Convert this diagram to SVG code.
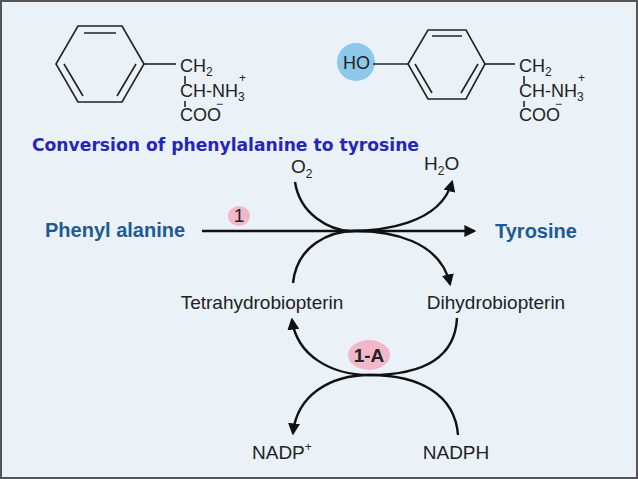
<svg xmlns="http://www.w3.org/2000/svg" width="638" height="479" viewBox="0 0 638 479">
<style>
.t{font-family:"Liberation Sans",Arial,sans-serif;fill:#222;font-size:19px}
.c{font-size:18px}
.s{font-size:12px}
.b{font-family:"Liberation Sans",Arial,sans-serif;font-weight:bold;fill:#1d5a96;font-size:20px}
.ln{stroke:#111;stroke-width:2.4;fill:none}
.bd{stroke:#222;stroke-width:1.6;fill:none}
</style>
<defs><marker id="ah" viewBox="0 0 10 10" refX="8" refY="5" markerWidth="5" markerHeight="5" orient="auto"><path d="M0,0L10,5L0,10z" fill="#111"/></marker></defs>
<rect width="638" height="479" fill="#eaf1f7"/>
<rect x="0" y="0" width="638" height="479" fill="none" stroke="#555" stroke-width="4"/>
<g id="phe">
<polygon class="bd" points="144,64 122,26 78,26 56,64 78,102 122,102"/>
<path class="bd" d="M84,33H116M136,64L117,96M64,64L83,96"/>
<line class="bd" x1="144" y1="64" x2="176" y2="64"/>
<text class="t c" x="180" y="72">CH<tspan class="s" dy="4">2</tspan></text>
<line class="bd" x1="185" y1="76" x2="185" y2="84"/>
<text class="t c" x="180" y="97">CH-NH<tspan class="s" dy="4">3</tspan></text>
<text class="t s" x="239" y="82">+</text>
<line class="bd" x1="185" y1="101" x2="185" y2="107"/>
<text class="t c" x="180" y="121">COO</text>
<text class="t s" x="216" y="108">−</text>
</g>
<g id="tyr">
<circle cx="356" cy="62" r="19" fill="#8ec9ec"/>
<text class="t c" x="343" y="69">HO</text>
<line class="bd" x1="373" y1="64" x2="408" y2="64"/>
<polygon class="bd" points="408,64 428,30 466,30 485,64 466,99 428,99"/>
<path class="bd" d="M432,36H462M415,64L432,93M478,64L461,93"/>
<line class="bd" x1="485" y1="64" x2="515" y2="64"/>
<text class="t c" x="519" y="72">CH<tspan class="s" dy="4">2</tspan></text>
<line class="bd" x1="524" y1="76" x2="524" y2="84"/>
<text class="t c" x="519" y="97">CH-NH<tspan class="s" dy="4">3</tspan></text>
<text class="t s" x="578" y="82">+</text>
<line class="bd" x1="524" y1="101" x2="524" y2="107"/>
<text class="t c" x="519" y="121">COO</text>
<text class="t s" x="555" y="108">−</text>
</g>
<text x="32" y="151" font-family="'DejaVu Sans',Verdana,sans-serif" font-weight="bold" font-size="17" fill="#2626b8" textLength="387" lengthAdjust="spacingAndGlyphs">Conversion of phenylalanine to tyrosine</text>
<g id="connectors">
<line class="ln" x1="202" y1="231" x2="474" y2="231" marker-end="url(#ah)"/>
<path class="ln" d="M295,182C300,215 330,230 350,231C380,231 440,225 452,182" marker-end="url(#ah)"/>
<path class="ln" d="M293,283C297,245 330,231 355,231C390,231 440,240 450,284" marker-end="url(#ah)"/>
<path class="ln" d="M457,318C455,360 420,375 370,375C330,375 297,355 292,320" marker-end="url(#ah)"/>
<path class="ln" d="M458,435C455,395 420,375 370,375C330,375 297,395 293,433" marker-end="url(#ah)"/>
</g>
<g id="n1"><ellipse cx="239" cy="216" rx="11" ry="10" fill="#f2b8c9"/><text class="t" x="239" y="222" text-anchor="middle" font-size="15">1</text></g>
<g id="n1a"><ellipse cx="369" cy="355" rx="21" ry="15" fill="#f2b8c9"/><text class="t" x="369" y="362" text-anchor="middle" font-weight="bold" font-size="18">1-A</text></g>
<g id="phenyl"><text class="b" x="45" y="237">Phenyl alanine</text></g>
<g id="tyrosine"><text class="b" x="495" y="238">Tyrosine</text></g>
<g id="o2"><text class="t" x="291" y="173">O<tspan class="s" dy="5">2</tspan></text></g>
<g id="h2o"><text class="t" x="424" y="170">H<tspan class="s" dy="5">2</tspan><tspan dy="-5">O</tspan></text></g>
<g id="thb"><text class="t" x="262" y="309" text-anchor="middle">Tetrahydrobiopterin</text></g>
<g id="dhb"><text class="t" x="496" y="309" text-anchor="middle">Dihydrobiopterin</text></g>
<g id="nadp"><text class="t" x="252" y="459">NADP<tspan class="s" dy="-8">+</tspan></text></g>
<g id="nadph"><text class="t" x="456" y="459" text-anchor="middle">NADPH</text></g>
</svg>
